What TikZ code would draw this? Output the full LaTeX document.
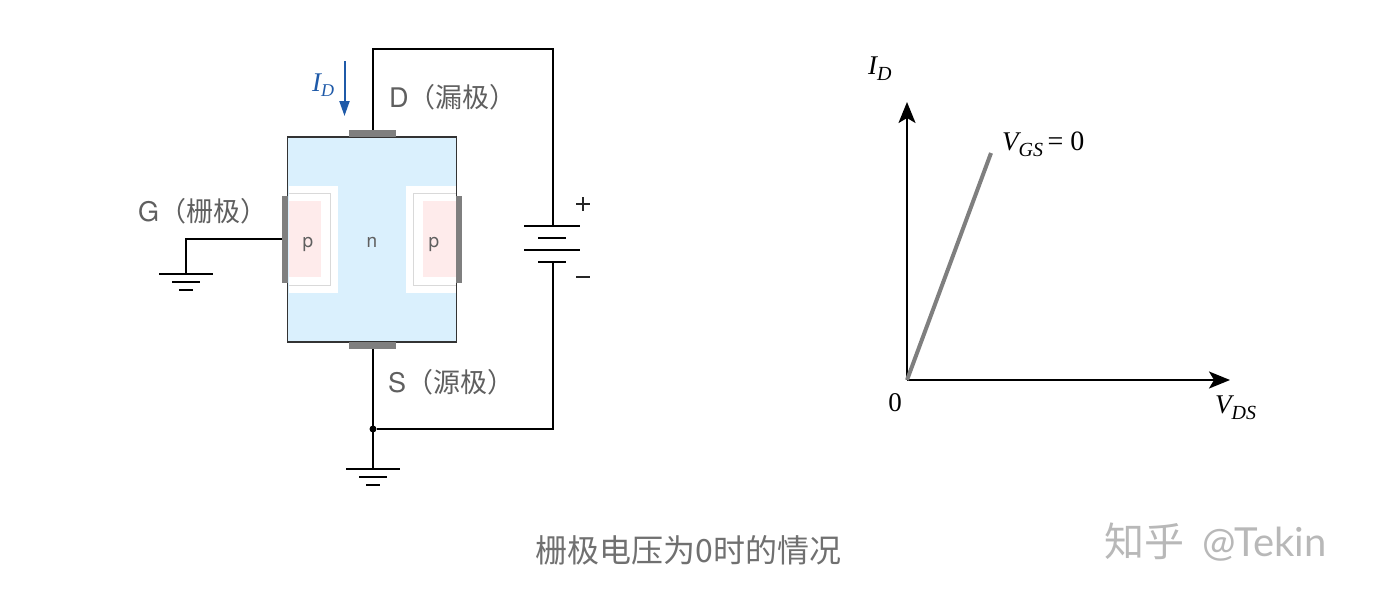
\documentclass[tikz,border=0pt]{standalone}
\usepackage{fontspec}
\setmainfont{Liberation Serif}
\newfontfamily\cjk{Noto Sans CJK SC}
\newfontfamily\lat{TeX Gyre Heros}
\newfontfamily\wmf{Lato}
\usetikzlibrary{arrows.meta}
\definecolor{nfill}{HTML}{DAF0FD}
\definecolor{pfill}{HTML}{FEEBEB}
\definecolor{plate}{HTML}{7F7F7F}
\definecolor{lab}{HTML}{5F5F5F}
\definecolor{cap}{HTML}{707070}
\definecolor{blueI}{HTML}{1F5AA8}
\tikzset{x=1pt,y=-1pt,
 wire/.style={draw=black,line width=2pt},
 junctiondot/.style={circle,fill=black,inner sep=0pt,minimum size=7pt},
 lbl/.style={text=lab,font=\cjk\fontsize{27}{29}\selectfont,inner sep=0pt},
 region/.style={text=lab,font=\lat\fontsize{19}{21}\selectfont,inner sep=0pt},
 mathlab/.style={font=\fontsize{27}{29}\selectfont\itshape,inner sep=0pt},
 axis/.style={draw=black,line width=2pt,-{Stealth[length=21pt,width=17pt,inset=5pt]}}}
\begin{document}
\begin{tikzpicture}
\useasboundingbox (0,0) rectangle (1380,598);
% body
\node[fill=nfill,inner sep=0pt,anchor=north west,minimum width=168.6pt,minimum height=204.8pt] (body) at (287.7,136.9) {};
\fill[white] (288.5,185.7) rectangle (338.3,293.3);
\fill[white] (405.7,185.7) rectangle (455.5,293.3);
\draw[draw=black!15,line width=1pt] (288.5,193) -- (330.3,193) -- (330.3,285.3) -- (288.5,285.3);
\draw[draw=black!15,line width=1pt] (455.5,193) -- (413.7,193) -- (413.7,285.3) -- (455.5,285.3);
\fill[pfill] (288.5,200.7) rectangle (321,277.3);
\fill[pfill] (423.3,200.7) rectangle (455.5,277.3);
\draw[draw=black!80,line width=1.4pt] (body.north west) rectangle (body.south east);
% plates
\node[fill=plate,inner sep=0pt,minimum width=47pt,minimum height=7pt] (dplate) at (372.5,133.2) {};
\node[fill=plate,inner sep=0pt,minimum width=47pt,minimum height=7pt] (splate) at (372.5,345.5) {};
\node[fill=plate,inner sep=0pt,minimum width=6pt,minimum height=87pt] (gplate) at (284.7,239.3) {};
\node[fill=plate,inner sep=0pt,minimum width=6pt,minimum height=87pt] (rplate) at (459.2,239.3) {};
% labels in device
\node[region,anchor=base] (pl) at (308,247) {p};
\node[region,anchor=base] (pr) at (434,247) {p};
\node[region,anchor=base] (nn) at (372,247) {n};
% battery
\coordinate (battop) at (553,226);
\coordinate (batbot) at (553,262);
\draw[wire] (524,226) -- (580,226);
\draw[wire] (538,238) -- (566,238);
\draw[wire] (524,250) -- (580,250);
\draw[wire] (538,262) -- (566,262);
% wiring
\coordinate (corner1) at (373,49);
\coordinate (corner2) at (553,49);
\coordinate (corner3) at (553,429);
\coordinate (gnd1) at (373,469);
\node[junctiondot] (junc) at (373,429) {};
\draw[wire] (dplate.north -| corner1) -- (corner1) -- (corner2) -- (battop);
\draw[wire] (splate.south -| gnd1) -- (gnd1);
\draw[wire] (junc) -- (corner3) -- (batbot);
\coordinate (gturn) at (186,239);
\coordinate (gnd2) at (186,274);
\draw[wire] (gplate.west |- gturn) -- (gturn) -- (gnd2);
% grounds
\draw[wire] (346,469) -- (400,469);
\draw[wire] (359,477) -- (387,477);
\draw[wire] (366,484.5) -- (380,484.5);
\draw[wire] (159,274) -- (213,274);
\draw[wire] (172,282) -- (200,282);
\draw[wire] (179,290) -- (193,290);
% + -
\draw[draw=black!85,line width=2.2pt] (576,204) -- (590,204) (583,197) -- (583,211);
\draw[draw=black!85,line width=2.2pt] (576,277.3) -- (590,277.3);
% labels
\node[lbl,anchor=base west] (dlab) at (389,107) {{\lat D}（漏极）};
\node[lbl,anchor=base west] (slab) at (388,392) {{\lat S}（源极）};
\node[lbl,anchor=base west] (glab) at (138,221) {{\lat G}（栅极）};
% ID blue
\coordinate (ia) at (344.5,61);
\coordinate (ib) at (344.5,116);
\draw[draw=blueI,line width=2pt,-{Stealth[length=15pt,width=10pt,inset=0pt]}] (ia) -- (ib);
\node[mathlab,text=blueI,anchor=base west] (idb) at (312,91) {I\raisebox{-5pt}{\fontsize{18}{20}\selectfont D}};
% chart
\coordinate (org) at (907,380);
\coordinate (yend) at (907,102);
\coordinate (xend) at (1230,380);
\coordinate (lineend) at (991,153);
\draw[axis] (org) -- (yend);
\draw[axis] (org) -- (xend);
\draw[draw=plate,line width=4pt] (org) -- (lineend);
\node[mathlab,text=black,anchor=base west] (idc) at (868,74) {I\raisebox{-6pt}{\fontsize{20}{22}\selectfont D}};
\node[mathlab,text=black,anchor=base west] (vgs) at (1002,150) {V\raisebox{-6pt}{\fontsize{20}{22}\selectfont GS}\,{\upshape\fontsize{28}{30}\selectfont = 0}};
\node[mathlab,text=black,anchor=base west] (vds) at (1215,413) {V\raisebox{-6pt}{\fontsize{20}{22}\selectfont DS}};
\node[text=black,anchor=base,font=\fontsize{27}{29}\selectfont,inner sep=0pt] (zero) at (895,411) {0};
% caption
\node[inner sep=0pt,text=cap,font=\cjk\fontsize{32}{34}\selectfont] (capt) at (688.5,550) {栅极电压为0时的情况};
\node[inner sep=0pt,text=black!28,font=\cjk\fontsize{40}{42}\selectfont,anchor=base west] (wm) at (1104,556) {知乎\hspace{0.45em}{\wmf @Tekin}};
\end{tikzpicture}
\end{document}
